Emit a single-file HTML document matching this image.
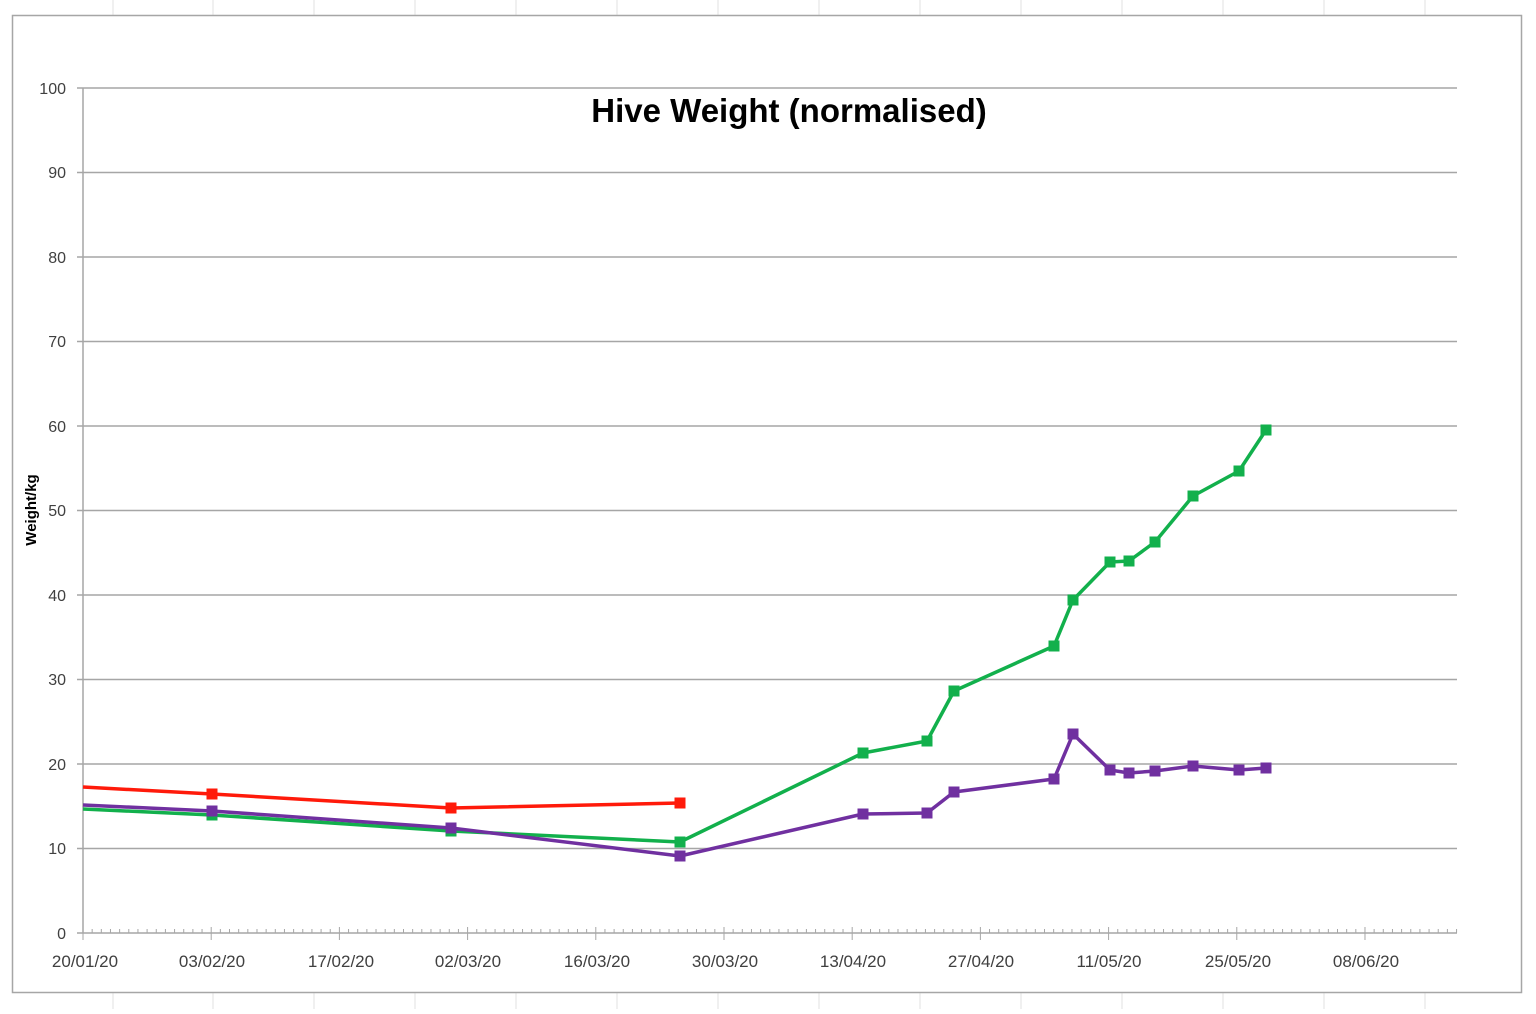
<!DOCTYPE html>
<html><head><meta charset="utf-8"><style>
html,body{margin:0;padding:0;background:#fff;}
</style></head><body>
<svg width="1536" height="1009" viewBox="0 0 1536 1009" xmlns="http://www.w3.org/2000/svg" font-family="Liberation Sans, sans-serif">
<rect width="1536" height="1009" fill="#fff"/>
<g stroke="#e2e2e2" stroke-width="1">
<line x1="113" y1="993" x2="113" y2="1009"/><line x1="213" y1="993" x2="213" y2="1009"/><line x1="314" y1="993" x2="314" y2="1009"/>
<line x1="415" y1="993" x2="415" y2="1009"/><line x1="516" y1="993" x2="516" y2="1009"/><line x1="617" y1="993" x2="617" y2="1009"/>
<line x1="718" y1="993" x2="718" y2="1009"/><line x1="819" y1="993" x2="819" y2="1009"/><line x1="920" y1="993" x2="920" y2="1009"/>
<line x1="1021" y1="993" x2="1021" y2="1009"/><line x1="1122" y1="993" x2="1122" y2="1009"/><line x1="1223" y1="993" x2="1223" y2="1009"/>
<line x1="1324" y1="993" x2="1324" y2="1009"/><line x1="1425" y1="993" x2="1425" y2="1009"/>
<line x1="113" y1="0" x2="113" y2="15"/><line x1="213" y1="0" x2="213" y2="15"/><line x1="314" y1="0" x2="314" y2="15"/>
<line x1="415" y1="0" x2="415" y2="15"/><line x1="516" y1="0" x2="516" y2="15"/><line x1="617" y1="0" x2="617" y2="15"/>
<line x1="718" y1="0" x2="718" y2="15"/><line x1="819" y1="0" x2="819" y2="15"/><line x1="920" y1="0" x2="920" y2="15"/>
<line x1="1021" y1="0" x2="1021" y2="15"/><line x1="1122" y1="0" x2="1122" y2="15"/><line x1="1223" y1="0" x2="1223" y2="15"/>
<line x1="1324" y1="0" x2="1324" y2="15"/><line x1="1425" y1="0" x2="1425" y2="15"/>
</g>
<rect x="12.5" y="15.5" width="1509" height="977" fill="#fff" stroke="#a6a6a6" stroke-width="1.5"/>
<g stroke="#a6a6a6" stroke-width="1.5">
<line x1="77" y1="88" x2="1457" y2="88"/><line x1="77" y1="172.5" x2="1457" y2="172.5"/><line x1="77" y1="257" x2="1457" y2="257"/>
<line x1="77" y1="341.5" x2="1457" y2="341.5"/><line x1="77" y1="426" x2="1457" y2="426"/><line x1="77" y1="510.5" x2="1457" y2="510.5"/>
<line x1="77" y1="595" x2="1457" y2="595"/><line x1="77" y1="679.5" x2="1457" y2="679.5"/><line x1="77" y1="764" x2="1457" y2="764"/>
<line x1="77" y1="848.5" x2="1457" y2="848.5"/><line x1="77" y1="933" x2="1457" y2="933"/>
<line x1="83" y1="88" x2="83" y2="933"/>
</g>
<g id="ticks" stroke="#a6a6a6" stroke-width="1"></g>
<g font-size="16" fill="#404040" text-anchor="end">
<text x="66" y="94">100</text><text x="66" y="178">90</text><text x="66" y="263">80</text><text x="66" y="347">70</text>
<text x="66" y="432">60</text><text x="66" y="516">50</text><text x="66" y="601">40</text><text x="66" y="685">30</text>
<text x="66" y="770">20</text><text x="66" y="854">10</text><text x="66" y="939">0</text>
</g>
<g font-size="17" fill="#404040" text-anchor="middle">
<text x="85" y="967">20/01/20</text><text x="212" y="967">03/02/20</text><text x="341" y="967">17/02/20</text>
<text x="468" y="967">02/03/20</text><text x="597" y="967">16/03/20</text><text x="725" y="967">30/03/20</text>
<text x="853" y="967">13/04/20</text><text x="981" y="967">27/04/20</text><text x="1109" y="967">11/05/20</text>
<text x="1238" y="967">25/05/20</text><text x="1366" y="967">08/06/20</text>
</g>
<text x="789" y="122" font-size="33" font-weight="bold" text-anchor="middle" fill="#000">Hive Weight (normalised)</text>
<text transform="translate(36,510) rotate(-90)" font-size="15" font-weight="bold" text-anchor="middle" fill="#000">Weight/kg</text>
<g fill="none" stroke-width="3.5" stroke-linejoin="round">
<polyline stroke="#ff1a0a" points="83,787 212,794 451,808 680,803"/>
<polyline stroke="#12b04c" points="83,809 212,815 451,831 680,842 863,753 927,741 954,691 1054,646 1073,600 1110,562 1129,561 1155,542 1193,496 1239,471 1266,430"/>
<polyline stroke="#7030a0" points="83,805 212,811 451,828 680,856 863,814 927,813 954,792 1054,779 1073,734 1110,770 1129,773 1155,771 1193,766 1239,770 1266,768"/>
</g>
<g id="marks"></g>
<script>
var ns="http://www.w3.org/2000/svg";
var t=document.getElementById("ticks");
for(var i=0;i<=150;i++){var x=83+i*9.157;if(x>1458)break;var l=document.createElementNS(ns,"line");
var major=(i%14==0);l.setAttribute("x1",x);l.setAttribute("x2",x);l.setAttribute("y1",major?927:929);l.setAttribute("y2",major?940:933);t.appendChild(l);}
var m=document.getElementById("marks");
function pts(c,a){a.forEach(function(p){var r=document.createElementNS(ns,"rect");r.setAttribute("x",p[0]-5.5);r.setAttribute("y",p[1]-5.5);r.setAttribute("width",11);r.setAttribute("height",11);r.setAttribute("fill",c);m.appendChild(r);});}
pts("#ff1a0a",[[212,794],[451,808],[680,803]]);
pts("#12b04c",[[212,815],[451,831],[680,842],[863,753],[927,741],[954,691],[1054,646],[1073,600],[1110,562],[1129,561],[1155,542],[1193,496],[1239,471],[1266,430]]);
pts("#7030a0",[[212,811],[451,828],[680,856],[863,814],[927,813],[954,792],[1054,779],[1073,734],[1110,770],[1129,773],[1155,771],[1193,766],[1239,770],[1266,768]]);
</script>
</svg>
</body></html>
